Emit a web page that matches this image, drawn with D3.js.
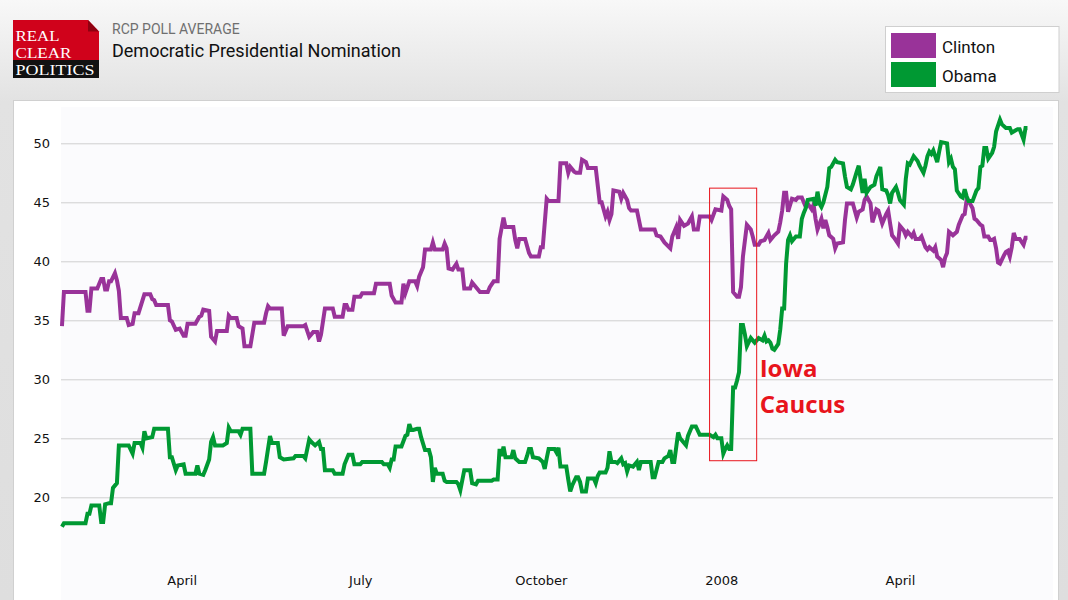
<!DOCTYPE html>
<html><head><meta charset="utf-8">
<script src="https://cdn.jsdelivr.net/npm/d3@7"></script>
<style>body{margin:0;background:#e0e0e0;overflow:hidden}</style>
</head><body><div id="chart"></div>
<script>
const seriesNames=["Clinton","Obama"];
const seriesColors=["#993399","#009933"];
const yTicks=[20,25,30,35,40,45,50];
const xTicks=["2007-04-01","2007-07-01","2007-10-01","2008-01-01","2008-04-01"];
const xTickLabels=["April","July","October","2008","April"];
const annotation={start:"2007-12-26",end:"2008-01-19",high:46.2,low:23.1,lines:["Iowa","Caucus"]};

const clinton=[["2007-01-30",34.5],["2007-01-31",37.4],["2007-02-11",37.4],["2007-02-12",35.8],["2007-02-13",35.8],["2007-02-14",37.7],["2007-02-17",37.7],["2007-02-19",38.5],["2007-02-20",38.5],["2007-02-21",37.6],["2007-02-22",37.6],["2007-02-23",38.3],["2007-02-24",38.3],["2007-02-26",39.0],["2007-02-27",38.4],["2007-02-28",37.5],["2007-03-01",35.2],["2007-03-04",35.2],["2007-03-05",34.6],["2007-03-07",34.7],["2007-03-08",35.6],["2007-03-10",35.6],["2007-03-13",37.2],["2007-03-16",37.2],["2007-03-17",36.8],["2007-03-18",36.7],["2007-03-19",36.3],["2007-03-25",36.3],["2007-03-26",35.0],["2007-03-27",34.9],["2007-03-29",34.2],["2007-03-31",34.3],["2007-04-02",33.7],["2007-04-03",33.7],["2007-04-04",34.7],["2007-04-08",34.7],["2007-04-10",35.3],["2007-04-11",35.4],["2007-04-12",35.9],["2007-04-15",35.8],["2007-04-16",33.6],["2007-04-18",33.2],["2007-04-19",34.1],["2007-04-24",34.1],["2007-04-25",35.4],["2007-04-26",35.2],["2007-04-29",35.2],["2007-04-30",34.5],["2007-05-02",34.3],["2007-05-03",32.8],["2007-05-06",32.8],["2007-05-08",34.8],["2007-05-13",34.8],["2007-05-14",35.6],["2007-05-15",36.2],["2007-05-16",36.0],["2007-05-22",36.0],["2007-05-23",33.7],["2007-05-25",34.5],["2007-06-02",34.5],["2007-06-03",34.6],["2007-06-05",33.6],["2007-06-07",34.0],["2007-06-09",34.0],["2007-06-10",33.2],["2007-06-11",33.8],["2007-06-13",36.0],["2007-06-17",36.0],["2007-06-18",35.3],["2007-06-22",35.3],["2007-06-23",36.3],["2007-06-24",36.3],["2007-06-25",35.9],["2007-06-27",35.9],["2007-06-28",37.0],["2007-07-01",37.0],["2007-07-02",37.3],["2007-07-08",37.3],["2007-07-09",38.1],["2007-07-16",38.1],["2007-07-17",37.1],["2007-07-19",36.5],["2007-07-22",36.5],["2007-07-23",38.1],["2007-07-24",37.3],["2007-07-26",38.3],["2007-07-29",38.3],["2007-07-30",37.9],["2007-07-31",38.7],["2007-08-02",39.5],["2007-08-03",41.0],["2007-08-06",41.0],["2007-08-07",41.6],["2007-08-08",41.0],["2007-08-12",41.0],["2007-08-13",41.5],["2007-08-14",41.1],["2007-08-15",39.4],["2007-08-17",39.3],["2007-08-19",39.8],["2007-08-20",39.3],["2007-08-22",39.3],["2007-08-23",37.7],["2007-08-26",37.7],["2007-08-27",38.2],["2007-08-29",37.8],["2007-08-31",37.4],["2007-09-04",37.4],["2007-09-05",37.8],["2007-09-07",38.3],["2007-09-09",38.3],["2007-09-10",41.9],["2007-09-11",42.8],["2007-09-12",43.7],["2007-09-13",42.9],["2007-09-17",42.9],["2007-09-18",41.8],["2007-09-19",41.1],["2007-09-20",41.9],["2007-09-23",41.9],["2007-09-25",40.7],["2007-09-26",40.4],["2007-09-30",40.4],["2007-10-01",41.2],["2007-10-02",41.2],["2007-10-04",45.3],["2007-10-05",45.1],["2007-10-10",45.1],["2007-10-11",48.3],["2007-10-14",48.3],["2007-10-15",47.5],["2007-10-16",48.0],["2007-10-18",47.6],["2007-10-19",47.5],["2007-10-21",47.5],["2007-10-22",48.6],["2007-10-24",48.4],["2007-10-25",47.9],["2007-10-29",47.9],["2007-10-31",45.0],["2007-11-01",45.0],["2007-11-03",43.8],["2007-11-04",44.2],["2007-11-05",43.5],["2007-11-06",44.0],["2007-11-07",46.0],["2007-11-10",45.9],["2007-11-11",45.3],["2007-11-12",45.8],["2007-11-14",45.2],["2007-11-15",44.5],["2007-11-16",44.3],["2007-11-19",44.3],["2007-11-21",42.7],["2007-11-28",42.7],["2007-11-29",42.2],["2007-12-01",42.1],["2007-12-03",41.6],["2007-12-06",41.1],["2007-12-07",42.1],["2007-12-09",42.9],["2007-12-10",41.9],["2007-12-11",43.5],["2007-12-13",43.0],["2007-12-15",43.2],["2007-12-17",43.8],["2007-12-18",42.7],["2007-12-20",42.7],["2007-12-21",43.8],["2007-12-26",43.8],["2007-12-27",43.5],["2007-12-29",44.4],["2008-01-01",44.3],["2008-01-02",45.5],["2008-01-04",45.2],["2008-01-05",44.7],["2008-01-06",44.4],["2008-01-07",37.4],["2008-01-09",37.0],["2008-01-10",37.0],["2008-01-11",37.8],["2008-01-12",40.4],["2008-01-14",43.1],["2008-01-16",42.7],["2008-01-17",42.1],["2008-01-18",41.4],["2008-01-20",41.4],["2008-01-21",41.7],["2008-01-23",41.8],["2008-01-25",42.4],["2008-01-26",41.8],["2008-01-28",42.2],["2008-01-30",42.5],["2008-01-31",43.3],["2008-02-01",44.3],["2008-02-02",45.8],["2008-02-03",45.8],["2008-02-04",44.2],["2008-02-06",45.3],["2008-02-08",45.2],["2008-02-09",45.4],["2008-02-11",45.4],["2008-02-13",44.6],["2008-02-14",44.9],["2008-02-16",44.4],["2008-02-17",44.8],["2008-02-18",43.6],["2008-02-19",42.7],["2008-02-21",43.6],["2008-02-22",42.8],["2008-02-23",43.5],["2008-02-24",42.9],["2008-02-25",42.2],["2008-02-27",41.9],["2008-02-28",41.1],["2008-02-29",41.5],["2008-03-03",41.6],["2008-03-04",43.5],["2008-03-05",44.9],["2008-03-08",44.9],["2008-03-10",43.7],["2008-03-11",44.2],["2008-03-13",44.4],["2008-03-14",45.2],["2008-03-15",45.5],["2008-03-17",44.9],["2008-03-18",43.3],["2008-03-20",44.4],["2008-03-21",44.3],["2008-03-23",43.2],["2008-03-25",44.0],["2008-03-26",44.3],["2008-03-27",43.2],["2008-03-28",42.2],["2008-03-29",42.0],["2008-03-31",41.5],["2008-04-01",43.0],["2008-04-03",42.6],["2008-04-04",42.2],["2008-04-05",42.5],["2008-04-07",42.1],["2008-04-08",42.4],["2008-04-09",41.9],["2008-04-11",41.9],["2008-04-12",42.1],["2008-04-14",41.2],["2008-04-15",41.0],["2008-04-16",41.2],["2008-04-18",40.9],["2008-04-19",41.2],["2008-04-20",40.4],["2008-04-22",40.1],["2008-04-23",39.5],["2008-04-24",40.3],["2008-04-25",40.7],["2008-04-26",42.5],["2008-04-28",42.2],["2008-04-30",42.5],["2008-05-01",43.1],["2008-05-03",43.9],["2008-05-04",44.0],["2008-05-05",45.2],["2008-05-06",45.1],["2008-05-08",44.5],["2008-05-09",43.6],["2008-05-10",43.5],["2008-05-12",43.1],["2008-05-13",43.0],["2008-05-14",42.1],["2008-05-16",42.1],["2008-05-17",41.8],["2008-05-18",41.8],["2008-05-19",41.9],["2008-05-20",41.1],["2008-05-21",39.9],["2008-05-22",39.8],["2008-05-24",40.5],["2008-05-25",40.8],["2008-05-26",40.9],["2008-05-27",40.4],["2008-05-28",41.2],["2008-05-29",42.4],["2008-05-30",41.9],["2008-06-01",41.9],["2008-06-03",41.4],["2008-06-04",42.0],["2008-06-05",42.0]];

const obama=[["2007-01-30",17.5],["2007-01-31",17.8],["2007-02-11",17.8],["2007-02-12",18.6],["2007-02-13",18.6],["2007-02-14",19.3],["2007-02-18",19.3],["2007-02-19",17.9],["2007-02-20",17.9],["2007-02-21",19.4],["2007-02-23",19.5],["2007-02-24",19.5],["2007-02-25",20.8],["2007-02-27",21.2],["2007-02-28",24.4],["2007-03-05",24.4],["2007-03-07",23.7],["2007-03-08",24.6],["2007-03-11",24.6],["2007-03-12",24.2],["2007-03-13",25.6],["2007-03-14",25.0],["2007-03-17",25.1],["2007-03-18",25.8],["2007-03-25",25.8],["2007-03-26",23.4],["2007-03-27",23.4],["2007-03-29",22.3],["2007-03-30",22.7],["2007-04-02",22.8],["2007-04-03",22.0],["2007-04-08",22.0],["2007-04-09",22.7],["2007-04-10",22.0],["2007-04-12",21.9],["2007-04-13",22.3],["2007-04-15",23.2],["2007-04-16",24.7],["2007-04-17",25.1],["2007-04-18",24.4],["2007-04-22",24.4],["2007-04-24",24.6],["2007-04-25",25.9],["2007-04-26",25.6],["2007-04-30",25.6],["2007-05-01",25.3],["2007-05-02",25.8],["2007-05-06",25.8],["2007-05-07",22.0],["2007-05-13",22.0],["2007-05-14",23.0],["2007-05-16",25.2],["2007-05-17",24.6],["2007-05-20",24.6],["2007-05-21",23.4],["2007-05-23",23.2],["2007-05-28",23.3],["2007-05-29",23.5],["2007-06-02",23.5],["2007-06-03",23.3],["2007-06-05",24.9],["2007-06-06",24.7],["2007-06-08",24.4],["2007-06-10",24.7],["2007-06-11",24.1],["2007-06-12",24.1],["2007-06-13",22.3],["2007-06-17",22.3],["2007-06-18",22.0],["2007-06-22",22.0],["2007-06-23",22.8],["2007-06-25",23.6],["2007-06-27",23.6],["2007-06-28",22.8],["2007-07-01",22.8],["2007-07-02",23.0],["2007-07-12",23.0],["2007-07-13",22.8],["2007-07-15",22.8],["2007-07-16",22.5],["2007-07-17",23.2],["2007-07-18",23.2],["2007-07-19",24.3],["2007-07-22",24.3],["2007-07-24",25.2],["2007-07-25",25.3],["2007-07-26",26.2],["2007-07-27",25.7],["2007-07-28",25.7],["2007-07-30",25.8],["2007-07-31",25.8],["2007-08-01",25.1],["2007-08-03",24.0],["2007-08-05",24.0],["2007-08-06",23.4],["2007-08-07",21.3],["2007-08-08",22.5],["2007-08-09",22.0],["2007-08-12",22.0],["2007-08-13",21.4],["2007-08-14",21.3],["2007-08-19",21.3],["2007-08-20",21.1],["2007-08-21",20.6],["2007-08-23",22.3],["2007-08-26",22.3],["2007-08-27",21.2],["2007-08-29",21.1],["2007-08-30",21.4],["2007-09-06",21.4],["2007-09-07",21.5],["2007-09-09",21.5],["2007-09-10",24.1],["2007-09-11",23.5],["2007-09-12",24.3],["2007-09-13",23.4],["2007-09-16",23.4],["2007-09-17",24.0],["2007-09-18",23.3],["2007-09-20",23.0],["2007-09-23",23.0],["2007-09-24",23.5],["2007-09-25",24.1],["2007-09-26",24.1],["2007-09-27",23.4],["2007-09-30",23.3],["2007-10-02",23.0],["2007-10-03",22.4],["2007-10-04",23.3],["2007-10-05",24.1],["2007-10-08",24.1],["2007-10-09",23.8],["2007-10-10",24.2],["2007-10-11",22.6],["2007-10-14",22.6],["2007-10-15",21.5],["2007-10-16",20.5],["2007-10-17",21.0],["2007-10-19",21.7],["2007-10-20",21.7],["2007-10-21",21.3],["2007-10-22",20.5],["2007-10-24",20.5],["2007-10-25",21.6],["2007-10-28",21.6],["2007-10-29",21.2],["2007-10-30",21.8],["2007-10-31",22.1],["2007-11-03",22.1],["2007-11-04",22.5],["2007-11-05",23.9],["2007-11-06",23.0],["2007-11-08",23.0],["2007-11-09",22.9],["2007-11-11",23.3],["2007-11-12",22.8],["2007-11-13",22.9],["2007-11-14",22.2],["2007-11-15",22.7],["2007-11-17",22.6],["2007-11-19",23.0],["2007-11-20",22.3],["2007-11-21",23.0],["2007-11-26",23.0],["2007-11-27",21.7],["2007-11-28",21.7],["2007-11-30",23.0],["2007-12-02",23.0],["2007-12-03",23.3],["2007-12-05",23.5],["2007-12-06",24.0],["2007-12-07",23.0],["2007-12-08",23.0],["2007-12-10",25.5],["2007-12-11",25.0],["2007-12-14",24.4],["2007-12-15",25.2],["2007-12-17",26.0],["2007-12-19",26.0],["2007-12-21",25.3],["2007-12-26",25.3],["2007-12-28",25.1],["2007-12-29",25.3],["2007-12-30",25.0],["2008-01-01",25.0],["2008-01-02",23.7],["2008-01-03",24.1],["2008-01-04",24.4],["2008-01-05",24.1],["2008-01-06",24.1],["2008-01-07",29.3],["2008-01-08",29.3],["2008-01-09",29.9],["2008-01-10",30.6],["2008-01-11",34.6],["2008-01-12",34.6],["2008-01-13",33.8],["2008-01-14",32.8],["2008-01-16",33.5],["2008-01-17",33.3],["2008-01-18",33.1],["2008-01-19",33.3],["2008-01-20",33.5],["2008-01-22",33.3],["2008-01-23",33.7],["2008-01-24",33.2],["2008-01-25",33.3],["2008-01-26",33.1],["2008-01-27",32.6],["2008-01-28",32.5],["2008-01-30",33.0],["2008-01-31",34.2],["2008-02-01",36.0],["2008-02-02",36.0],["2008-02-03",39.8],["2008-02-04",41.8],["2008-02-05",42.2],["2008-02-06",41.7],["2008-02-08",42.1],["2008-02-10",42.1],["2008-02-11",43.6],["2008-02-12",44.1],["2008-02-13",44.5],["2008-02-14",45.2],["2008-02-17",45.3],["2008-02-18",44.7],["2008-02-19",45.9],["2008-02-20",44.9],["2008-02-21",44.6],["2008-02-22",45.0],["2008-02-24",46.3],["2008-02-25",47.9],["2008-02-26",48.0],["2008-02-28",48.6],["2008-02-29",48.4],["2008-03-03",48.3],["2008-03-04",47.2],["2008-03-05",46.3],["2008-03-07",46.1],["2008-03-08",46.5],["2008-03-10",47.6],["2008-03-11",48.1],["2008-03-12",46.9],["2008-03-13",45.8],["2008-03-14",47.0],["2008-03-15",45.8],["2008-03-17",46.3],["2008-03-19",46.5],["2008-03-20",47.2],["2008-03-22",48.0],["2008-03-23",46.1],["2008-03-25",46.0],["2008-03-26",45.6],["2008-03-27",44.9],["2008-03-28",45.8],["2008-03-30",46.3],["2008-03-31",45.8],["2008-04-01",45.2],["2008-04-03",44.8],["2008-04-04",47.0],["2008-04-05",48.3],["2008-04-06",48.2],["2008-04-08",48.9],["2008-04-10",48.5],["2008-04-11",48.1],["2008-04-13",47.5],["2008-04-14",48.1],["2008-04-15",48.9],["2008-04-16",49.3],["2008-04-17",49.1],["2008-04-18",49.4],["2008-04-20",48.4],["2008-04-21",49.3],["2008-04-22",50.1],["2008-04-25",50.0],["2008-04-26",48.4],["2008-04-27",48.7],["2008-04-28",48.0],["2008-04-29",47.8],["2008-04-30",46.0],["2008-05-02",45.5],["2008-05-03",45.4],["2008-05-04",46.1],["2008-05-05",45.5],["2008-05-06",45.1],["2008-05-08",45.1],["2008-05-10",46.0],["2008-05-11",46.2],["2008-05-12",48.0],["2008-05-13",48.1],["2008-05-14",49.6],["2008-05-15",49.6],["2008-05-16",48.7],["2008-05-18",49.2],["2008-05-19",49.7],["2008-05-20",51.0],["2008-05-22",52.0],["2008-05-23",51.6],["2008-05-25",51.3],["2008-05-27",51.3],["2008-05-28",50.9],["2008-05-30",51.1],["2008-05-31",51.2],["2008-06-01",51.2],["2008-06-03",50.3],["2008-06-04",51.3],["2008-06-05",51.3]];

(function(){
  const W=1068,H=600,parse=d3.timeParse("%Y-%m-%d");
  const svg=d3.select("#chart").append("svg").attr("width",W).attr("height",H).style("display","block");
  const defs=svg.append("defs");
  const grad=defs.append("linearGradient").attr("id","bg").attr("x1",0).attr("y1",0).attr("x2",0).attr("y2",1);
  grad.append("stop").attr("offset",0).attr("stop-color","#f8f8f8");
  grad.append("stop").attr("offset",.17).attr("stop-color","#e2e2e2");
  grad.append("stop").attr("offset",1).attr("stop-color","#dedede");
  svg.append("rect").attr("width",W).attr("height",H).attr("fill","url(#bg)");

  // logo
  const logo=svg.append("g");
  logo.append("path").attr("d","M13,20H88L99,31.5V60H13Z").attr("fill","#d0021b");
  logo.append("path").attr("d","M88,20V31.5H99Z").attr("fill","#8f0010");
  logo.append("rect").attr("x",13).attr("y",60).attr("width",86).attr("height",18).attr("fill","#111");
  [["REAL",41,44],["CLEAR",57.5,56],["POLITICS",74.5,79]].forEach(([t,y,len])=>
    logo.append("text").attr("x",15.5).attr("y",y).attr("textLength",len).attr("lengthAdjust","spacingAndGlyphs")
      .attr("font-family","'Liberation Serif',serif").attr("font-size",15).attr("fill","#fff").text(t));

  svg.append("text").attr("x",112).attr("y",34).attr("font-family","Roboto,sans-serif").attr("font-size",14)
    .attr("fill","#6f6f6f").text("RCP POLL AVERAGE");
  svg.append("text").attr("x",112).attr("y",56.5).attr("font-family","Roboto,sans-serif").attr("font-size",18)
    .attr("fill","#111").text("Democratic Presidential Nomination");

  // legend
  const lg=svg.append("g");
  lg.append("rect").attr("x",885.5).attr("y",26.5).attr("width",173.5).attr("height",66).attr("fill","#fff").attr("stroke","#cfcfcf");
  seriesNames.forEach((n,i)=>{
    lg.append("rect").attr("x",891).attr("y",33+i*29).attr("width",45).attr("height",25).attr("fill",seriesColors[i]);
    lg.append("text").attr("x",942).attr("y",53+i*29).attr("font-family","Roboto,sans-serif").attr("font-size",17)
      .attr("fill","#111").text(n);
  });

  // panel
  svg.append("rect").attr("x",13.5).attr("y",100.5).attr("width",1045).attr("height",520).attr("fill","#fff").attr("stroke","#d0d0d0");
  const left=61,right=1053,top=107;
  svg.append("rect").attr("x",left).attr("y",top).attr("width",right-left).attr("height",H-top).attr("fill","#fbfbfd");

  const x=d3.scaleTime().domain([parse("2007-01-29"),parse("2008-06-18")]).range([60,1053]);
  const y=d3.scaleLinear().domain([20,50]).range([497.3,143.3]);

  const ga=svg.append("g").attr("transform",`translate(${left},0)`)
    .call(d3.axisLeft(y).tickValues(yTicks).tickSize(-(right-left)).tickPadding(11));
  ga.select(".domain").remove();
  ga.selectAll("line").attr("stroke","#cfcfcf");
  ga.selectAll("text").attr("font-family","'DejaVu Sans',sans-serif").attr("font-size",13).attr("fill","#111");

  const xt=xTicks.map(parse);
  const gx=svg.append("g").attr("transform","translate(0,585)")
    .call(d3.axisBottom(x).tickValues(xt).tickSize(0).tickPadding(0).tickFormat((d,i)=>xTickLabels[i]));
  gx.select(".domain").remove();
  gx.selectAll("text").attr("dy",0).attr("font-family","'DejaVu Sans',sans-serif").attr("font-size",13).attr("fill","#111");

  const line=d3.line().x(d=>x(parse(d[0]))).y(d=>y(d[1]));
  [clinton,obama].forEach((data,i)=>
    svg.append("path").datum(data).attr("d",line).attr("fill","none").attr("stroke",seriesColors[i])
      .attr("stroke-width",4).attr("stroke-linejoin","miter"));

  // annotation
  const ax0=x(parse(annotation.start)),ax1=x(parse(annotation.end));
  svg.append("rect").attr("x",ax0).attr("y",y(annotation.high)).attr("width",ax1-ax0)
    .attr("height",y(annotation.low)-y(annotation.high)).attr("fill","none").attr("stroke","#e8141c").attr("stroke-width",1);
  annotation.lines.forEach((t,i)=>
    svg.append("text").attr("x",ax1+3).attr("y",377+i*35.5).attr("font-family","'Open Sans',sans-serif")
      .attr("font-weight",700).attr("font-size",24).attr("fill","#e8141c").text(t));
})();
</script>
</body></html>
